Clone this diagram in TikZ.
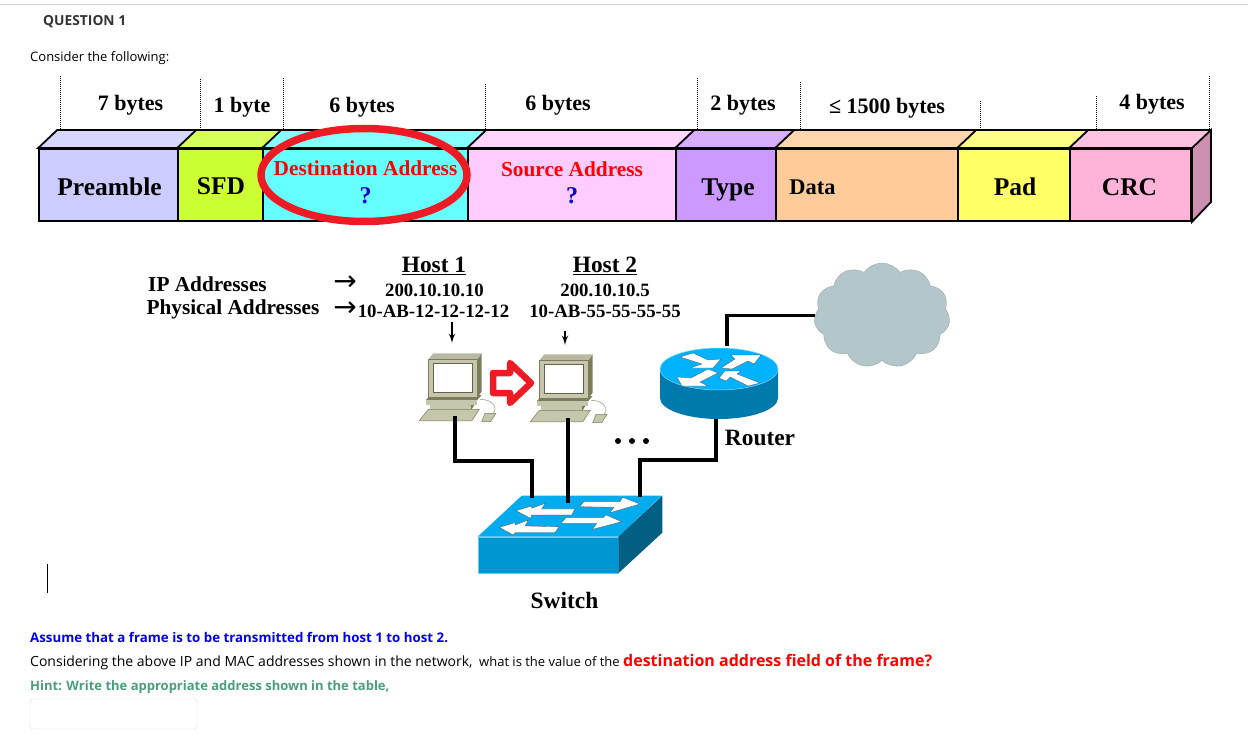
\documentclass[tikz,border=0pt]{standalone}
\usepackage{fontspec}
\setmainfont{Liberation Serif}
\newfontfamily\webfont{Open Sans}
\newfontfamily\symfont{DejaVu Sans}
\usepackage{tikz}
\usetikzlibrary{positioning,arrows,calc,shapes}
\definecolor{preamblec}{HTML}{CCCCFF}
\definecolor{sfdc}{HTML}{CCFF33}
\definecolor{destc}{HTML}{66FFFF}
\definecolor{sourcec}{HTML}{FFCCFF}
\definecolor{typec}{HTML}{CC99FF}
\definecolor{datac}{HTML}{FFCC99}
\definecolor{padc}{HTML}{FFFF66}
\definecolor{crcc}{HTML}{FFB3D9}
\definecolor{crcside}{HTML}{CC8FB0}
\definecolor{alarm}{HTML}{ED1C24}
\definecolor{qblue}{HTML}{0000EE}
\definecolor{hintgreen}{HTML}{4A9E78}
\definecolor{routertop}{HTML}{00B2FF}
\definecolor{routerside}{HTML}{0079AD}
\definecolor{switchtop}{HTML}{00ABEE}
\definecolor{switchfront}{HTML}{0096D2}
\definecolor{switchside}{HTML}{005F82}
\definecolor{cloudc}{HTML}{B3C6C9}
\definecolor{pcbody}{HTML}{C6C6AC}
\definecolor{pcdark}{HTML}{7C7C5C}
\tikzset{
    field/.style = {
        draw,
        shape=rectangle,
        minimum height=72pt,
        line width=1.8pt,
        inner sep=0pt
    },
    fieldlabel/.style = {
        font=\fontsize{25.5}{27}\selectfont\bfseries
    },
    bytes/.style = {
        font=\fontsize{22}{24}\selectfont\bfseries
    },
    redlabel/.style = {
        font=\fontsize{21.3}{23}\selectfont\bfseries,
        text=red
    },
    qmark/.style = {
        font=\fontsize{24}{26}\selectfont\bfseries,
        text=blue!80!black
    },
    addr/.style = {
        font=\fontsize{18.8}{21}\selectfont\bfseries
    },
    hostlabel/.style = {
        font=\fontsize{23.4}{25}\selectfont\bfseries
    },
    tick/.style = {
        draw,
        densely dotted,
        line width=1pt
    },
    wire/.style = {
        draw,
        line width=3.8pt,
        line cap=butt
    },
    web/.style = {
        anchor=west,
        inner sep=0pt,
        font=\webfont\fontsize{13}{15}\selectfont
    },
    pics/computer/.style = {
        code = {
            \begin{scope}[x=0.3333pt,y=-0.3333pt]
                \draw[pcbody!60!gray, line width=0.7pt] (240,238) .. controls (280,238) and (295,265) .. (278,282);
                \fill[pcdark] (232,118) -- (245,100) -- (245,215) -- (232,232) -- cycle;
                \fill[pcbody!80!gray] (85,118) -- (100,100) -- (245,100) -- (232,118) -- cycle;
                \fill[pcdark] (78,240) -- (90,228) -- (245,225) -- (232,240) -- (215,268) -- (90,268) -- (90,255) -- (78,255) -- cycle;
                \fill[pcbody] (78,240) rectangle (232,255);
                \fill[pcbody] (90,255) rectangle (212,268);
                \fill[pcbody, draw=pcdark] (85,118) rectangle (232,232);
                \fill[white, draw=pcdark!80!black, line width=1pt] (100,132) rectangle (218,218);
                \fill[pcbody, draw=pcdark, line width=0.5pt] (57,303) -- (85,268) -- (238,268) -- (215,303) -- cycle;
                \fill[pcbody, draw=pcdark, line width=0.5pt] (245,305) -- (255,280) -- (288,280) -- (272,305) -- cycle;
            \end{scope}
        }
    },
    >=latex',
}

\begin{document}
\begin{tikzpicture}[x=1pt,y=-1pt]
    \useasboundingbox (0,0) rectangle (1248,754);

    % page
    \node[web, font=\webfont\fontsize{13.8}{15}\selectfont\bfseries, text=black!80] (question) at (43,22) {QUESTION 1};
    \node[web] (consider) at (30,58) {Consider the following:};
    \coordinate (ruleleft) at (0,4);
    \coordinate (ruleright) at (1248,4);
    \path[draw, black!20] (ruleleft) -- (ruleright);
    \coordinate (carettop) at (47,564);
    \coordinate (caretbot) at (47,593);
    \path[draw, line width=0.8pt] (carettop) -- (caretbot);

    % frame
    \node[field, fill=preamblec, minimum width=139pt] (pre) at (108.5,185) {};
    \node[field, fill=sfdc, minimum width=85pt] (sfd) at (220.5,185) {};
    \node[field, fill=destc, minimum width=205pt] (dest) at (365.5,185) {};
    \node[field, fill=sourcec, minimum width=208pt] (src) at (572,185) {};
    \node[field, fill=typec, minimum width=100pt] (type) at (726,185) {};
    \node[field, fill=datac, minimum width=182pt] (data) at (867,185) {};
    \node[field, fill=padc, minimum width=112pt] (pad) at (1014,185) {};
    \node[field, fill=crcc, minimum width=121pt] (crc) at (1130.5,185) {};

    \foreach \n/\c in {pre/preamblec,sfd/sfdc,dest/destc,src/sourcec,type/typec,data/datac,pad/padc,crc/crcc} {
        \path[draw, line width=1.8pt, fill=\c!80!white] (\n.north west) -- ++(19,-18) -| ($(\n.north east)+(19,0)$) -- (\n.north east) -- cycle;
    }
    \path[draw, line width=1.8pt, fill=crcside] (crc.north east) -- ++(19,-18) -- ++(0,72) -- (crc.south east) -- cycle;

    \node[fieldlabel] (prelabel) at (109.5,187) {Preamble};
    \node[fieldlabel] (sfdlabel) at (221,186) {SFD};
    \node[fieldlabel] (typelabel) at (728,190) {Type};
    \node[fieldlabel, font=\fontsize{22.4}{24}\selectfont\bfseries] (datalabel) at (812.5,187) {Data};
    \node[fieldlabel] (padlabel) at (1015,187) {Pad};
    \node[fieldlabel] (crclabel) at (1129.5,187) {CRC};
    \node[redlabel] (destlabel) at (365.5,168) {Destination Address};
    \node[redlabel] (srclabel) at (572,169) {Source Address};
    \node[qmark] (destq) at (365.5,196) {?};
    \node[qmark] (srcq) at (572,196) {?};
    \node[draw=alarm, line width=7.5pt, shape=ellipse, minimum width=206pt, minimum height=93pt, inner sep=0pt] (circled) at (364,175) {};

    % byte counts
    \foreach \x/\y in {60/76,200/79,283/78,485/84,697/78,800/82,980/101,1096/96,1209/76} {
        \path[tick] (\x,\y) -- (\x,130);
    }
    \node[bytes] (b1) at (130.5,105) {7 bytes};
    \node[bytes] (b2) at (242,107) {1 byte};
    \node[bytes] (b3) at (362,107) {6 bytes};
    \node[bytes] (b4) at (558,105) {6 bytes};
    \node[bytes] (b5) at (743,105) {2 bytes};
    \node[bytes] (b6) at (887,108) {≤ 1500 bytes};
    \node[bytes] (b7) at (1152,104) {4 bytes};

    % addresses
    \node[hostlabel] (host1) at (434,266) {\underline{Host 1}};
    \node[hostlabel] (host2) at (605,266) {\underline{Host 2}};
    \node[addr] (ip1) at (434.5,290) {200.10.10.10};
    \node[addr] (ip2) at (605,290) {200.10.10.5};
    \node[addr] (mac1) at (433.5,311) {10-AB-12-12-12-12};
    \node[addr] (mac2) at (605,311) {10-AB-55-55-55-55};
    \node[bytes, font=\fontsize{21.3}{23}\selectfont\bfseries] (iplabel) at (207.5,284) {IP Addresses};
    \node[bytes, font=\fontsize{21.3}{23}\selectfont\bfseries] (physlabel) at (233,309) {Physical Addresses};
    \node[font=\symfont\fontsize{28}{30}\selectfont] (iparrow) at (345,283) {→};
    \node[font=\symfont\fontsize{28}{30}\selectfont] (physarrow) at (345,309) {→};

    % network
    \pic (pca) at (400,320) {computer};
    \pic (pcb) at (511,321) {computer};
    \coordinate (pcaport) at (455,416);
    \coordinate (pcbport) at (568,418);
    \coordinate (pcatip) at (452,343);
    \coordinate (pcbtip) at (565,345);
    \coordinate (pcatail) at (452,322);
    \coordinate (pcbtail) at (565,331);
    \path[draw, ->, line width=2.2pt] (pcatail) -- (pcatip);
    \path[draw, ->, line width=2.2pt] (pcbtail) -- (pcbtip);
    \path[draw=alarm, fill=white, line width=6.5pt, line join=round] (493,373) -- (510,373) -- (510,363) -- (531,383) -- (510,403) -- (510,393) -- (493,393) -- cycle;

    \node[shape=cloud, cloud puffs=11, cloud puff arc=110, aspect=1.35, fill=cloudc, draw=cloudc!85!black, minimum width=136pt, minimum height=105pt, inner sep=0pt] (inet) at (882,315.5) {};

    % router
    \coordinate (rc) at (719,369);
    \path[fill=routerside] ($(rc)+(-59,0)$) -- ++(0,29) arc[start angle=180, end angle=0, x radius=59, y radius=21] -- ++(0,-29) -- cycle;
    \path[fill=routertop, draw=routertop!50!white, line width=0.5pt] (rc) ellipse[x radius=59, y radius=21];
    \begin{scope}[shift={(rc)}, fill=white, draw=black!70, line width=0.3pt]
        \path[fill, draw] (-39,-12) -- (-26,-16) -- (-11,-9) -- (2,-10) -- (-6,-1) -- (-29,-1) -- (-17,-5) -- cycle;
        \path[fill, draw] (2,-1) -- (16,-10) -- (12,-14) -- (42,-14) -- (35,-5) -- (29,-8) -- (13,0) -- cycle;
        \path[fill, draw] (-42,8) -- (-37,17) -- (-11,17) -- (-19,13) -- (-1,4) -- (-11,0) -- (-28,9) -- cycle;
        \path[fill, draw] (0,9) -- (6,2) -- (22,2) -- (18,5) -- (41,14) -- (29,17) -- (11,8) -- (7,12) -- cycle;
    \end{scope}
    \node[hostlabel] (routerlabel) at (760,438) {Router};
    \coordinate (routerup) at (727,346);
    \coordinate (routerdown) at (716,419);

    % switch
    \node[draw=switchtop!60!white, fill=switchfront, line width=0.6pt, minimum width=140pt, minimum height=36pt] (switch) at (548,555) {};
    \path[fill=switchtop] (switch.north west) -- ++(44,-41) -- ++(140,0) -- (switch.north east) -- cycle;
    \path[fill=switchside] (switch.north east) -- ++(44,-41) -- ++(0,37) -- (switch.south east) -- cycle;
    \begin{scope}[shift={(460,470)}, x=0.3333pt, y=-0.3333pt, fill=white, draw=black!70, line width=0.3pt]
        \path[fill, draw] (168,122) -- (215,108) -- (215,115) -- (255,100) -- (245,117) -- (345,117) -- (335,135) -- (215,135) -- (212,145) -- cycle;
        \path[fill, draw] (118,172) -- (165,158) -- (165,165) -- (205,150) -- (195,168) -- (297,170) -- (285,188) -- (165,188) -- (160,195) -- cycle;
        \path[fill, draw] (360,108) -- (372,95) -- (480,95) -- (488,82) -- (540,102) -- (450,128) -- (462,112) -- (360,110) -- cycle;
        \path[fill, draw] (305,158) -- (318,143) -- (430,143) -- (438,135) -- (485,155) -- (398,178) -- (410,160) -- (305,160) -- cycle;
    \end{scope}
    \node[hostlabel] (switchlabel) at (564.5,600) {Switch};
    \coordinate (swa) at (532,498);
    \coordinate (swb) at (568,503);
    \coordinate (swc) at (640,497);

    % links
    \path[wire] (pcaport) |- (532,461) -- (swa);
    \path[wire] (pcbport) -- (swb);
    \path[wire] (routerdown) |- (640,460) -- (swc);
    \path[wire] (routerup) |- (inet.west);
    \foreach \x in {618,632,646} {
        \fill (\x,441) circle[radius=3];
    }

    % question text
    \node[web, font=\webfont\fontsize{13.3}{15}\selectfont\bfseries, text=qblue] (assume) at (30,637) {Assume that a frame is to be transmitted from host 1 to host 2.};
    \node[web, font=\webfont\fontsize{14}{15}\selectfont] (consider2) at (30,662.5) {Considering the above IP and MAC addresses shown in the network,};
    \node[web, font=\webfont\fontsize{13}{15}\selectfont] (whatis) at (479,662) {what is the value of the};
    \node[web, font=\webfont\fontsize{16}{18}\selectfont\bfseries, text=red] (destfield) at (623,660.5) {destination address field of the frame?};
    \node[web, font=\webfont\fontsize{13}{15}\selectfont\bfseries, text=hintgreen] (hint) at (30,687) {Hint: Write the appropriate address shown in the table,};
    \node[draw=black!15, rounded corners=3pt, minimum width=167pt, minimum height=30pt, inner sep=0pt] (answer) at (113.5,714) {};
\end{tikzpicture}
\end{document}
